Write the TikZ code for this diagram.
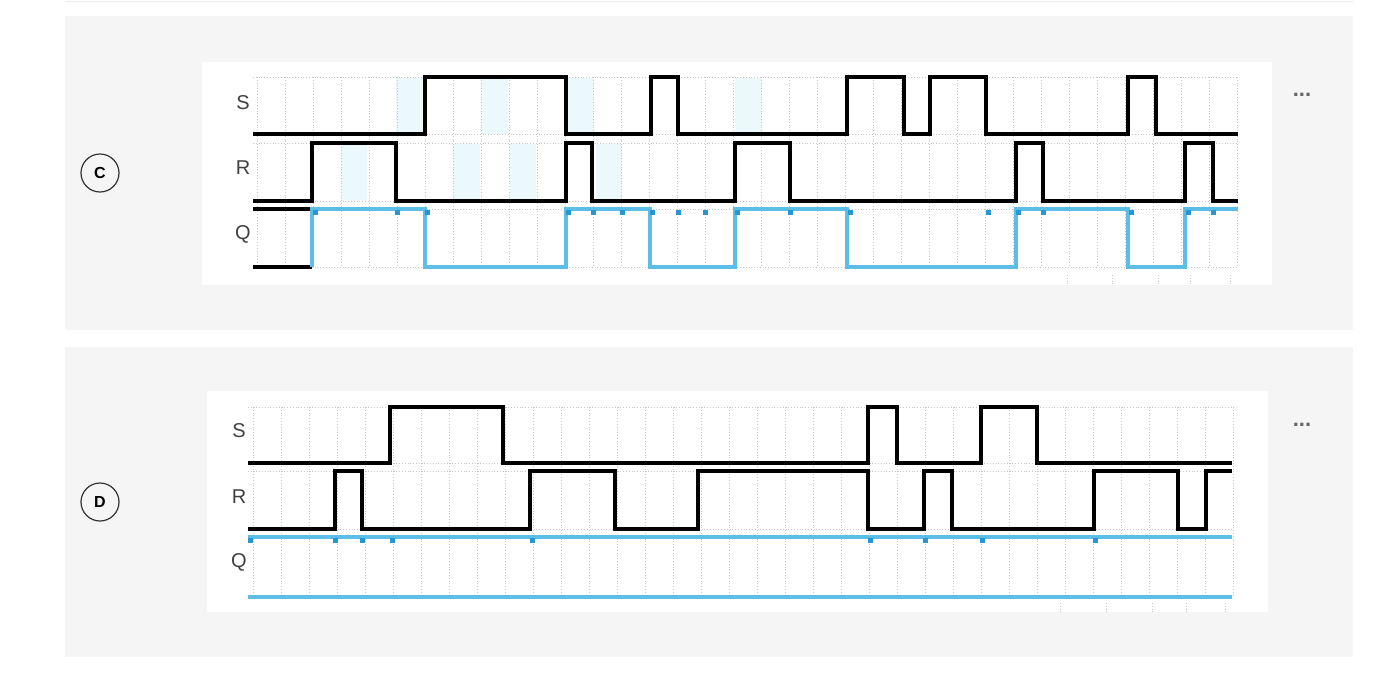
\documentclass[tikz,border=0pt]{standalone}
\usepackage{fontspec}
\setmainfont{Liberation Sans}
\begin{document}
\begin{tikzpicture}[x=0.5pt,y=-0.5pt,
  panel/.style={fill=black!4,draw=none},
  inner/.style={fill=white,draw=none},
  wave/.style={line width=1.6pt,black,line join=miter},
  qwave/.style={line width=1.6pt,color={rgb,255:red,92;green,190;blue,230}},
  grid/.style={densely dotted,black!22,line width=0.4pt},
  shade/.style={fill={rgb,255:red,235;green,249;blue,253},draw=none},
  qmark/.style={fill={rgb,255:red,40;green,150;blue,210}},
  lbl/.style={font=\fontsize{10}{12}\selectfont,text=black!75},
  circ/.style={circle,draw=black!80,line width=0.6pt,minimum size=19pt,inner sep=0pt,font=\bfseries\fontsize{8}{10}\selectfont},
  dots/.style={font=\bfseries\fontsize{11}{12}\selectfont,text=black!60}]
\useasboundingbox (0,0) rectangle (1378,692);
\fill[white] (0,0) rectangle (1378,692);
\draw[black!8] (65,1) -- (1353,1);
% Panel C
\fill[panel] (65,16) rectangle (1353,330);
\fill[inner] (202,62) rectangle (1272,285);
\foreach \a/\b in {396/425,481/508,568/594,735/762} \fill[shade] (\a,78) rectangle (\b,134);
\foreach \a/\b in {341/367,453/480,510/536,596/622} \fill[shade] (\a,144) rectangle (\b,201);
\foreach \i in {0,...,35} \draw[grid] ({257+28*\i},77) -- ({257+28*\i},267);
\foreach \y in {77,134,143,201,209,267} \draw[grid] (253,\y) -- (1238,\y);
\foreach \x in {1067,1112,1158,1190,1230} \draw[grid] (\x,275) -- (\x,284);
\node[lbl] (cs) at (243,103) {S};
\node[lbl] (cr) at (243,168) {R};
\node[lbl] (cq) at (243,234) {Q};
\draw[wave] (253,134) -- (425,134) -- (425,77) -- (566,77) -- (566,134) -- (651,134) -- (651,77) -- (678,77) -- (678,134) -- (847,134) -- (847,77) -- (904,77) -- (904,134) -- (930,134) -- (930,77) -- (986,77) -- (986,134) -- (1128,134) -- (1128,77) -- (1156,77) -- (1156,134) -- (1238,134);
\draw[wave] (253,201) -- (312,201) -- (312,143) -- (396,143) -- (396,201) -- (566,201) -- (566,143) -- (592,143) -- (592,201) -- (735,201) -- (735,143) -- (790,143) -- (790,201) -- (1016,201) -- (1016,143) -- (1043,143) -- (1043,201) -- (1185,201) -- (1185,143) -- (1213,143) -- (1213,201) -- (1238,201);
\draw[wave] (253,209) -- (312,209);
\draw[wave] (253,267) -- (312,267);
\draw[qwave] (312,267) -- (312,209) -- (425,209) -- (425,267) -- (566,267) -- (566,209) -- (650,209) -- (650,267) -- (735,267) -- (735,209) -- (847,209) -- (847,267) -- (1016,267) -- (1016,209) -- (1128,209) -- (1128,267) -- (1185,267) -- (1185,209) -- (1238,209);
\foreach \x in {315,397,427,568,593,622,652,678,705,737,790,850,988,1018,1043,1131,1188,1213} \fill[qmark] (\x-2.5,210) rectangle (\x+2.5,215);
\node[circ] (cc) at (100,173) {C};
\node[dots] (cd) at (1302,95) {...};
% Panel D
\fill[panel] (65,347) rectangle (1353,657);
\fill[inner] (207,391) rectangle (1268,612);
\foreach \i in {0,...,35} \draw[grid] ({253+28*\i},407) -- ({253+28*\i},597);
\foreach \y in {407,463,471,529} \draw[grid] (248,\y) -- (1232,\y);
\foreach \x in {1060,1106,1152,1186,1225} \draw[grid] (\x,603) -- (\x,612);
\node[lbl] (ds) at (239,431) {S};
\node[lbl] (dr) at (239,497) {R};
\node[lbl] (dq) at (239,562) {Q};
\draw[wave] (248,463) -- (390,463) -- (390,407) -- (503,407) -- (503,463) -- (868,463) -- (868,407) -- (897,407) -- (897,463) -- (981,463) -- (981,407) -- (1037,407) -- (1037,463) -- (1232,463);
\draw[wave] (248,529) -- (335,529) -- (335,471) -- (362,471) -- (362,529) -- (530,529) -- (530,471) -- (615,471) -- (615,529) -- (698,529) -- (698,471) -- (868,471) -- (868,529) -- (924,529) -- (924,471) -- (952,471) -- (952,529) -- (1094,529) -- (1094,471) -- (1178,471) -- (1178,529) -- (1206,529) -- (1206,471) -- (1232,471);
\draw[qwave] (248,537) -- (1232,537);
\draw[qwave] (248,597) -- (1232,597);
\foreach \x in {250,335,362,392,532,870,925,982,1095} \fill[qmark] (\x-2.5,538) rectangle (\x+2.5,543);
\node[circ] (dc) at (100,502) {D};
\node[dots] (dd) at (1302,425) {...};
\end{tikzpicture}
\end{document}
